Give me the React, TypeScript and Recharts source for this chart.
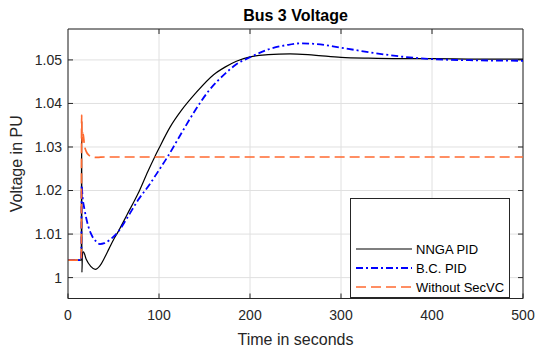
import React from "react";
import { LineChart, Line, XAxis, YAxis, CartesianGrid, Legend, ReferenceLine } from "recharts";

const nngaT = [0, 14.6, 15, 15.3, 15.8, 17, 20, 25, 30, 35, 40, 45, 50, 55, 65, 77, 88, 95, 100, 112, 125, 140, 160, 173, 185, 200, 220, 244, 270, 300, 330, 365, 400, 450, 500];
const nngaV = [1.004, 1.004, 1.036, 1.0012, 1.005, 1.0059, 1.0042, 1.0026, 1.0019, 1.0027, 1.0045, 1.0066, 1.0087, 1.0105, 1.0145, 1.0193, 1.0245, 1.0276, 1.0297, 1.0345, 1.0385, 1.0423, 1.0466, 1.0484, 1.0497, 1.0507, 1.0512, 1.0514, 1.0511, 1.0506, 1.0504, 1.0503, 1.0503, 1.0502, 1.0502];

const bcT = [0, 14.6, 15, 16, 18, 20, 22, 25, 28, 31, 35, 40, 46, 55, 65, 77, 90, 100, 109, 125, 140, 155, 173, 185, 200, 220, 240, 255, 270, 300, 330, 365, 400, 450, 500];
const bcV = [1.004, 1.004, 1.0212, 1.0185, 1.0158, 1.0137, 1.012, 1.0102, 1.009, 1.0083, 1.0077, 1.0079, 1.0087, 1.0105, 1.0137, 1.0178, 1.0215, 1.0247, 1.0276, 1.0333, 1.0385, 1.043, 1.0469, 1.049, 1.0506, 1.0524, 1.0534, 1.0538, 1.0537, 1.0528, 1.0518, 1.0508, 1.0502, 1.0499, 1.0498];

const woT = [0, 14.6, 15, 15.5, 16.5, 18, 20, 23, 27, 32, 40, 500];
const woV = [1.004, 1.004, 1.0373, 1.031, 1.0332, 1.0305, 1.029, 1.0281, 1.0277, 1.0276, 1.0277, 1.0277];

const xTicks = [0, 100, 200, 300, 400, 500];
const yTicks = [1.0, 1.01, 1.02, 1.03, 1.04, 1.05];
const yTickLabels = ["1", "1.01", "1.02", "1.03", "1.04", "1.05"];
const xDomain: [number, number] = [0, 500];
const yDomain: [number, number] = [0.9952, 1.0571];

const seriesNames = ["NNGA PID", "B.C. PID", "Without SecVC"];
const title = "Bus 3 Voltage";
const xLabel = "Time in seconds";
const yLabel = "Voltage in PU";

const zip = (ts: number[], vs: number[]) => ts.map((t, i) => ({ t, v: vs[i] }));
const nngaData = zip(nngaT, nngaV);
const bcData = zip(bcT, bcV);
const woData = zip(woT, woV);

const FONT = "'Liberation Sans', Arial, sans-serif";
const AX = "#262626";

const PLOT_H = 269.5;
const PLOT_W = 455;
const tickLenY = (5 * (yDomain[1] - yDomain[0])) / PLOT_H;
const tickLenX = (5 * (xDomain[1] - xDomain[0])) / PLOT_W;

const styles = [
  { color: "#000000", dash: undefined as string | undefined, width: 1.2 },
  { color: "#0000ff", dash: "7 3 2 3", width: 1.8 },
  { color: "#ff6a30", dash: "10 5", width: 1.7 },
];

const LegendBox = (props: any) => {
  const payload = [...(props.payload || [])].sort(
    (a: any, b: any) => seriesNames.indexOf(a.value) - seriesNames.indexOf(b.value)
  );
  return (
    <div
      style={{
        width: 160,
        height: 100,
        border: "1px solid #262626",
        background: "#fff",
        boxSizing: "border-box",
        position: "relative",
        fontFamily: FONT,
        fontSize: 13,
        color: "#000",
      }}
    >
      {payload.map((p: any, i: number) => {
        const st = styles[seriesNames.indexOf(p.value)] || styles[0];
        return (
          <div key={i} style={{ position: "absolute", left: 4, top: 41 + i * 19, height: 18, display: "flex", alignItems: "center" }}>
            <svg width={58} height={18}>
              <line x1={1} y1={9} x2={57} y2={9} stroke={st.color} strokeWidth={st.width} strokeDasharray={st.dash} />
            </svg>
            <span style={{ marginLeft: 3, whiteSpace: "nowrap" }}>{p.value}</span>
          </div>
        );
      })}
    </div>
  );
};

export default function App() {
  return (
    <div style={{ position: "absolute", left: 0, top: 0, background: "#fff" }}>
      <LineChart width={550} height={356} margin={{ top: 29, right: 27, bottom: 7.5, left: 0 }}>
        <CartesianGrid stroke="#e0e0e0" strokeWidth={1} />
        <XAxis
          dataKey="t"
          type="number"
          domain={xDomain}
          ticks={xTicks}
          allowDataOverflow
          height={50}
          tickSize={-5}
          tickMargin={17}
          stroke={AX}
          tick={{ fill: AX, fontSize: 14, fontFamily: FONT }}
          label={{
            content: (p: any) => {
              const vb = p.viewBox;
              return (
                <text x={vb.x + vb.width / 2} y={vb.y + 41} textAnchor="middle" dominantBaseline="central" fontSize={16} fontFamily={FONT} fill={AX}>
                  {xLabel}
                </text>
              );
            },
          }}
        />
        <YAxis
          type="number"
          domain={yDomain}
          ticks={yTicks}
          allowDataOverflow
          width={68}
          tickSize={-5}
          tickMargin={11}
          stroke={AX}
          tickFormatter={(v: number) => yTickLabels[yTicks.findIndex((y) => Math.abs(y - v) < 1e-6)] ?? String(v)}
          tick={{ fill: AX, fontSize: 14, fontFamily: FONT }}
          label={{
            content: (p: any) => {
              const vb = p.viewBox;
              const cx = 16;
              const cy = vb.y + vb.height / 2;
              return (
                <text x={cx} y={cy} transform={`rotate(-90 ${cx} ${cy})`} textAnchor="middle" dominantBaseline="central" fontSize={16} fontFamily={FONT} fill={AX}>
                  {yLabel}
                </text>
              );
            },
          }}
        />
        <ReferenceLine
          y={yDomain[1]}
          stroke={AX}
          strokeWidth={1}
          ifOverflow="extendDomain"
          label={{
            content: (p: any) => {
              const vb = p.viewBox;
              return (
                <text x={vb.x + vb.width / 2} y={vb.y - 14} textAnchor="middle" dominantBaseline="central" fontSize={16} fontWeight="bold" fontFamily={FONT} fill="#000">
                  {title}
                </text>
              );
            },
          }}
        />
        <ReferenceLine x={xDomain[1]} stroke={AX} strokeWidth={1} />
        {xTicks.slice(1, -1).map((t) => (
          <ReferenceLine
            key={"tx" + t}
            stroke={AX}
            segment={[{ x: t, y: yDomain[1] }, { x: t, y: yDomain[1] - tickLenY }]}
          />
        ))}
        {yTicks.map((v) => (
          <ReferenceLine
            key={"ty" + v}
            stroke={AX}
            segment={[{ x: xDomain[1], y: v }, { x: xDomain[1] - tickLenX, y: v }]}
          />
        ))}
        <Legend
          layout="vertical"
          align="center"
          verticalAlign="middle"
          content={<LegendBox />}
          wrapperStyle={{ position: "absolute", left: 350, top: 198, width: 160, height: 100 }}
        />
        <Line data={nngaData} dataKey="v" name={seriesNames[0]} type="monotone" stroke={styles[0].color} strokeWidth={styles[0].width} dot={false} isAnimationActive={false} />
        <Line data={bcData} dataKey="v" name={seriesNames[1]} type="monotone" stroke={styles[1].color} strokeWidth={styles[1].width} strokeDasharray={styles[1].dash} dot={false} isAnimationActive={false} />
        <Line data={woData} dataKey="v" name={seriesNames[2]} type="monotone" stroke={styles[2].color} strokeWidth={styles[2].width} strokeDasharray={styles[2].dash} dot={false} isAnimationActive={false} />
      </LineChart>
    </div>
  );
}
